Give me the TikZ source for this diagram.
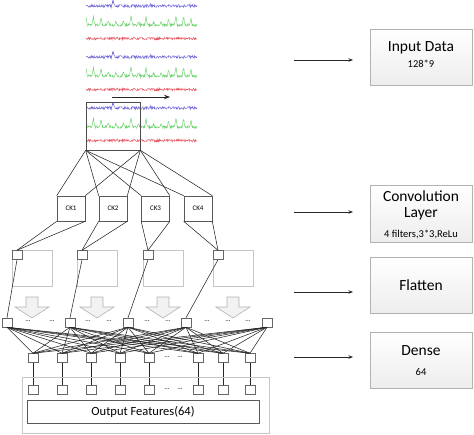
\documentclass[tikz,border=0pt]{standalone}
\usepackage{fontspec}
\setmainfont{Carlito}
\usetikzlibrary{arrows.meta}
\definecolor{tblue}{RGB}{115,105,215}
\definecolor{tgreen}{RGB}{105,210,105}
\definecolor{tred}{RGB}{230,90,100}
\begin{document}
\begin{tikzpicture}[x=1pt,y=-1pt,
  sq/.style={draw=gray!80!black, line width=0.5pt, minimum width=10pt, minimum height=9pt, inner sep=0pt},
  fmbox/.style={draw=gray!45, line width=0.6pt, minimum width=40pt, minimum height=36pt, inner sep=0pt},
  ckbox/.style={draw=gray!70!black, line width=0.6pt, minimum width=28pt, minimum height=25pt, inner sep=0pt, font=\fontsize{7}{8}\selectfont},
  rbox/.style={draw=gray!60, line width=0.6pt, top color=white, bottom color=gray!14, minimum width=102pt, minimum height=56pt, inner sep=0pt},
  big/.style={font=\fontsize{15.5}{17}\selectfont, inner sep=0pt},
  small/.style={font=\fontsize{10.5}{12}\selectfont, inner sep=0pt},
  dots/.style={font=\fontsize{7}{8}\selectfont, inner sep=0pt},
  conn/.style={line width=0.55pt, black!85},
  rarrow/.style={line width=0.7pt, gray!30!black, -{Stealth[length=4.5pt,width=3.5pt]}},
  barrow/.style={draw=gray!60, fill=gray!10, line width=0.6pt, line join=miter}
]
\useasboundingbox (0,0) rectangle (474,434);

% ---- signal traces ----
\foreach \g in {0,51,102}{
  \pgfmathsetseed{11}
  \draw[tblue, line width=0.45pt] plot[domain=86:197, samples=260] (\x, {\g+6+1.5*rand-5*max(0,1-abs(\x-113)/1.5)-2.5*max(0,1-abs(\x-121)/1.2)-2*max(0,1-abs(\x-150)/1.2)});
  \pgfmathsetseed{23}
  \draw[tgreen, line width=0.45pt] plot[domain=86:197, samples=300] (\x, {\g+25+1.3*rand-(2+8*abs(sin(13*\x))*abs(cos(4*\x)))*max(0,cos(48*(\x-86)))^3});
  \pgfmathsetseed{37}
  \draw[tred, line width=0.45pt] plot[domain=86:197, samples=260] (\x, {\g+38.5+1.3*rand});
}

% signal arrow
\coordinate (sa) at (112,97);
\coordinate (sb) at (170,97);
\draw[line width=0.8pt, black!85, -{Stealth[length=6pt,width=4.5pt]}] (sa) -- (sb);

% kernel box
\node[draw=gray!60!black, line width=0.7pt, minimum width=54pt, minimum height=48pt, inner sep=0pt] (kbox) at (113,126) {};

% CK boxes
\node[ckbox] (ck1) at (71,208.5) {CK1};
\node[ckbox] (ck2) at (113,208.5) {CK2};
\node[ckbox] (ck3) at (155.5,208.5) {CK3};
\node[ckbox] (ck4) at (198,208.5) {CK4};
\foreach \i in {1,...,4}{
  \draw[conn] (kbox.south west) -- (ck\i.north west);
  \draw[conn] (kbox.south east) -- (ck\i.north east);
}

% feature maps
\node[fmbox] (fm1) at (32,268) {};
\node[fmbox] (fm2) at (97,268) {};
\node[fmbox] (fm3) at (163,268) {};
\node[fmbox] (fm4) at (233.5,268) {};
\node[sq] (fs1) at (17,255) {};
\node[sq] (fs2) at (82,255) {};
\node[sq] (fs3) at (148,255) {};
\node[sq] (fs4) at (218,255) {};
\foreach \i in {1,...,4}{
  \draw[conn] (ck\i.south west) -- (fs\i.north);
  \draw[conn] (ck\i.south east) -- (fs\i.north);
}

% block arrows
\foreach \c in {32,97,163,233}{
  \draw[barrow] ({\c-6},297) -- ({\c+6},297) -- ({\c+6},307) -- ({\c+17},307) -- (\c,318) -- ({\c-17},307) -- ({\c-6},307) -- cycle;
}

% flatten row
\node[sq] (fl1) at (7,322.5) {};
\node[sq] (fl2) at (70,322.5) {};
\node[sq] (fl3) at (128,322.5) {};
\node[sq] (fl4) at (186,322.5) {};
\node[sq] (fl5) at (267,322.5) {};
\foreach \x [count=\k] in {28,52,88,109,147,168,207,228,248}{
  \node[dots] (fd\k) at (\x,321) {...};
}
\foreach \i in {1,...,4}{
  \draw[conn] (fs\i.south) -- (fl\i.north);
}

% dense row
\foreach \x [count=\k] in {33,62,91,120,149,198,223,250}{
  \node[sq] (de\k) at (\x,358) {};
  \node[sq] (ou\k) at (\x,390) {};
}
\node[dots] (dd1) at (167,357) {...};
\node[dots] (dd2) at (180,357) {...};
\node[dots] (od1) at (167,389) {...};
\node[dots] (od2) at (180,389) {...};
\foreach \j in {1,...,5}{
  \foreach \k in {1,...,8}{
    \draw[conn] (fl\j.south) -- (de\k.north);
  }
}
\foreach \k in {1,...,8}{
  \draw[conn] (de\k.south) -- (ou\k.north);
}

% output container
\node[draw=gray!45, line width=0.6pt, minimum width=247pt, minimum height=56pt, inner sep=0pt] (outc) at (145.5,405) {};
\node[draw=gray!70!black, line width=0.6pt, minimum width=232pt, minimum height=23pt, inner sep=0pt, font=\fontsize{12.5}{14}\selectfont] (outf) at (143,411.5) {Output Features(64)};

% right column boxes
\node[rbox] (rb1) at (421,57) {};
\node[big] (t1a) at (421,48) {Input Data};
\node[small] (t1b) at (421,63.5) {128*9};

\node[rbox, minimum height=57pt] (rb2) at (421,213.5) {};
\node[big] (t2a) at (421,196) {Convolution};
\node[big] (t2b) at (421,214) {Layer};
\node[small] (t2c) at (421,234.5) {4 filters,3*3,ReLu};

\node[rbox] (rb3) at (421,285) {};
\node[big] (t3a) at (421,285) {Flatten};

\node[rbox] (rb4) at (421,360) {};
\node[big] (t4a) at (421,351) {Dense};
\node[small] (t4b) at (421,372) {64};

% right arrows
\coordinate (a1s) at (294,60);  \coordinate (a1e) at (353,60);
\coordinate (a2s) at (294,212); \coordinate (a2e) at (353,212);
\coordinate (a3s) at (294,292); \coordinate (a3e) at (353,292);
\coordinate (a4s) at (294,357); \coordinate (a4e) at (353,357);
\draw[rarrow] (a1s) -- (a1e);
\draw[rarrow] (a2s) -- (a2e);
\draw[rarrow] (a3s) -- (a3e);
\draw[rarrow] (a4s) -- (a4e);
\end{tikzpicture}
\end{document}
